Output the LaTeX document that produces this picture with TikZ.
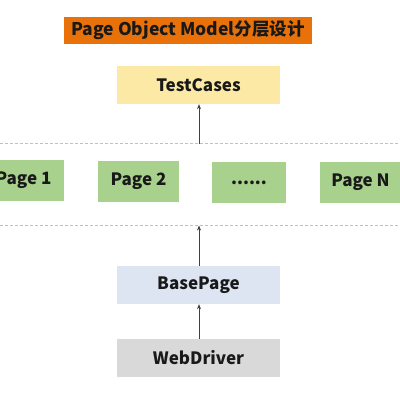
\documentclass[tikz,border=0pt]{standalone}
\usepackage{fontspec}
\setmainfont{Noto Sans CJK SC}
\definecolor{titleor}{HTML}{E8710A}
\definecolor{tcyel}{HTML}{FCE9A6}
\definecolor{pggreen}{HTML}{A9D18E}
\definecolor{bpblue}{HTML}{DDE5F3}
\definecolor{wdgray}{HTML}{D9D9D9}
\definecolor{dashc}{HTML}{DDB894}
\tikzset{
  box/.style={inner sep=0pt, minimum height=38pt, font=\fontsize{17}{19}\selectfont\bfseries, text=black!90},
  pagebox/.style={box, fill=pggreen, minimum width=81pt, minimum height=41pt},
  layerbox/.style={box, minimum width=163pt},
  conn/.style={draw=black!75, line width=0.7pt, -{Stealth[length=5pt,width=4pt]}},
  sep/.style={draw=dashc, dashed, dash pattern=on 3pt off 2pt, line width=0.6pt}
}
\usetikzlibrary{arrows.meta}
\begin{document}
\begin{tikzpicture}[x=1pt,y=-1pt]
\useasboundingbox (0,0) rectangle (400,400);
\clip (0,0) rectangle (400,400);
\fill[white] (0,0) rectangle (400,400);
\node[fill=titleor, inner sep=0pt, minimum width=248pt, minimum height=27pt, font=\fontsize{17.5}{19}\selectfont\bfseries, text=black!90] (title) at (188,30.5) {Page Object Model分层设计};
\node[layerbox, fill=tcyel] (tc) at (198.5,85) {TestCases};
\coordinate (l1) at (0,143.5);
\coordinate (r1) at (400,143.5);
\coordinate (l2) at (0,225.5);
\coordinate (r2) at (400,225.5);
\draw[sep] (l1) -- (r1);
\draw[sep] (l2) -- (r2);
\coordinate (top1) at (199,143.5);
\coordinate (bot1) at (199,225.5);
\node[pagebox] (p1) at (23.5,180.5) {Page 1};
\node[pagebox] (p2) at (138.5,181.5) {Page 2};
\node[pagebox, minimum width=74pt] (pd) at (249,182.5) {......};
\node[pagebox] (pn) at (360.5,182.5) {Page N};
\node[layerbox, fill=bpblue] (bp) at (198.5,285) {BasePage};
\node[layerbox, fill=wdgray] (wd) at (198.5,358) {WebDriver};
\draw[conn] (top1) -- (tc.south -| top1);
\draw[conn] (bp.north -| bot1) -- (bot1);
\draw[conn] (wd.north -| bot1) -- (bp.south -| bot1);
\end{tikzpicture}
\end{document}
